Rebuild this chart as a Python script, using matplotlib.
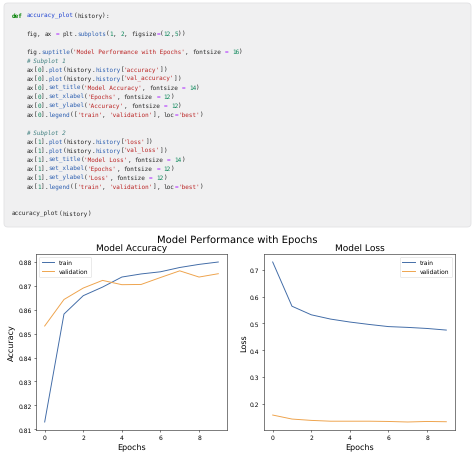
import re
import matplotlib
matplotlib.use('Agg')
import matplotlib.pyplot as plt
from matplotlib.patches import FancyBboxPatch

plt.rcParams['text.hinting'] = 'none'
plt.rcParams['text.hinting_factor'] = 1

epochs = list(range(10))
train_acc = [0.8130, 0.8582, 0.8659, 0.8695, 0.8737, 0.8750, 0.8759, 0.8777, 0.8790, 0.8800]
val_acc = [0.8532, 0.8643, 0.8691, 0.8723, 0.8705, 0.8706, 0.8735, 0.8763, 0.8737, 0.8751]
train_loss = [0.729, 0.564, 0.532, 0.516, 0.505, 0.496, 0.488, 0.485, 0.481, 0.475]
val_loss = [0.158, 0.143, 0.138, 0.135, 0.135, 0.135, 0.134, 0.132, 0.134, 0.133]
legend_labels = ['train', 'validation']

code_lines = [
    "def accuracy_plot(history):",
    "",
    "    fig, ax = plt.subplots(1, 2, figsize=(12,5))",
    "",
    "    fig.suptitle('Model Performance with Epochs', fontsize = 16)",
    "    # Subplot 1",
    "    ax[0].plot(history.history['accuracy'])",
    "    ax[0].plot(history.history['val_accuracy'])",
    "    ax[0].set_title('Model Accuracy', fontsize = 14)",
    "    ax[0].set_xlabel('Epochs', fontsize = 12)",
    "    ax[0].set_ylabel('Accuracy', fontsize = 12)",
    "    ax[0].legend(['train', 'validation'], loc='best')",
    "",
    "    # Subplot 2",
    "    ax[1].plot(history.history['loss'])",
    "    ax[1].plot(history.history['val_loss'])",
    "    ax[1].set_title('Model Loss', fontsize = 14)",
    "    ax[1].set_xlabel('Epochs', fontsize = 12)",
    "    ax[1].set_ylabel('Loss', fontsize = 12)",
    "    ax[1].legend(['train', 'validation'], loc='best')",
    "",
    "",
    "accuracy_plot(history)",
]

W, H = 474, 460
fig = plt.figure(figsize=(W / 100, H / 100), dpi=100)

# code cell background
box = FancyBboxPatch((4 / W, 1 - 228 / H), 467 / W, 224 / H,
                     boxstyle='round,pad=0,rounding_size=0.008',
                     transform=fig.transFigure, facecolor='#f0f0f1',
                     edgecolor='#e2e2e4', linewidth=0.6)
fig.patches.append(box)

code_font = dict(family='DejaVu Sans Mono', fontsize=4.5)

# measure the advance of one character (difference of two lengths)
renderer = fig.canvas.get_renderer()
widths = []
for n in (20, 80):
    probe = fig.text(0, 0, 'x' * n, **code_font)
    widths.append(probe.get_window_extent(renderer).width)
    probe.remove()
char_w = (widths[1] - widths[0]) / 60

# very small tokenizer for colouring the code
token_re = re.compile(r"(#.*)|('[^']*')|(\bdef\b)|(\d+)|(=)|((?<=\.)\w+)|((?<=def )\w+)|(\w+|[^\w\s])")
colors = ['#408080', '#ba2121', '#008000', '#098658', '#aa22ff', '#2a5db0', '#1a3fd0', '#222222']
y0, dy = 16, 9
for i, line in enumerate(code_lines):
    y = 1 - (y0 + i * dy) / H
    for m in token_re.finditer(line):
        k = m.lastindex - 1
        fig.text((12 + m.start() * char_w) / W, y, m.group(0), color=colors[k],
                 va='center', ha='left', style='italic' if k == 0 else 'normal',
                 weight='bold' if k == 2 else 'normal', **code_font)

# plots
s = 0.452
line_colors = ['#3f6aa6', '#eea24a']
ax1 = fig.add_axes([36 / W, 1 - 431 / H, 191 / W, 176 / H])
ax2 = fig.add_axes([264 / W, 1 - 431 / H, 191 / W, 176 / H])

fig.text(0.5, 1 - 240 / H, 'Model Performance with Epochs', ha='center', va='center',
         fontsize=16 * s)

for ax, tr, va, title, ylab in [(ax1, train_acc, val_acc, 'Model Accuracy', 'Accuracy'),
                                (ax2, train_loss, val_loss, 'Model Loss', 'Loss')]:
    ax.plot(epochs, tr, linewidth=1.5 * s, color=line_colors[0])
    ax.plot(epochs, va, linewidth=1.5 * s, color=line_colors[1])
    ax.set_title(title, fontsize=14 * s, pad=6 * s)
    ax.set_xlabel('Epochs', fontsize=12 * s, labelpad=4 * s)
    ax.set_ylabel(ylab, fontsize=12 * s, labelpad=4 * s)
    ax.tick_params(labelsize=10 * s, width=0.8 * s, length=3.5 * s, pad=3.5 * s)
    for sp in ax.spines.values():
        sp.set_linewidth(0.8 * s)
    ax.legend(legend_labels, loc='best', fontsize=10 * s, framealpha=0.8,
              borderpad=0.4, handlelength=2.0)
    ax.get_legend().get_frame().set_linewidth(0.8 * s)

fig.savefig('out.png', dpi=100)
